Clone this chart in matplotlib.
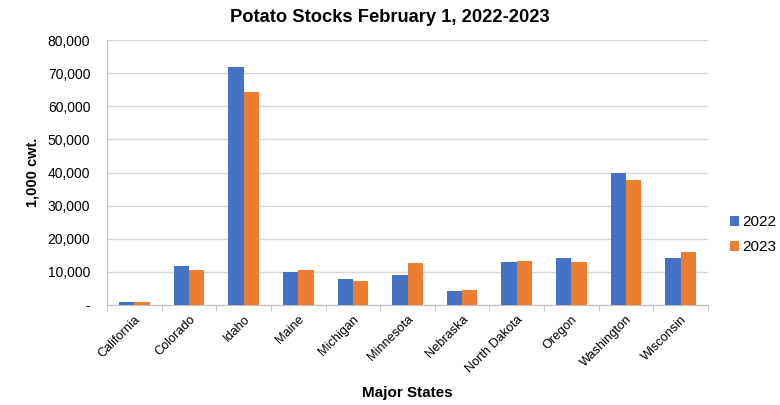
import matplotlib
matplotlib.use("Agg")
import matplotlib.pyplot as plt
import numpy as np
from matplotlib.ticker import FuncFormatter, MultipleLocator

plt.rcParams['font.family'] = ['Liberation Sans', 'DejaVu Sans']

states = ["California", "Colorado", "Idaho", "Maine", "Michigan", "Minnesota",
          "Nebraska", "North Dakota", "Oregon", "Washington", "Wisconsin"]
stocks_2022 = [950, 11900, 71800, 9900, 8000, 9200, 4200, 13100, 14300, 40000, 14100]
stocks_2023 = [950, 10700, 64300, 10600, 7300, 12600, 4400, 13200, 13100, 37800, 16100]
series_labels = ["2022", "2023"]
colors = ["#4472C4", "#ED7D31"]

fig = plt.figure(figsize=(7.8, 4.05), dpi=100)
ax = fig.add_axes([107/780, 1-305/405, (708-107)/780, (305-40)/405])

x = np.arange(len(states))
w = 0.28
ax.bar(x - w/2, stocks_2022, width=w, color=colors[0], label=series_labels[0], zorder=3)
ax.bar(x + w/2, stocks_2023, width=w, color=colors[1], label=series_labels[1], zorder=3)

ax.set_xlim(-0.5, len(states) - 0.5)
ax.set_ylim(0, 80000)
ax.yaxis.set_major_locator(MultipleLocator(10000))
ax.yaxis.set_major_formatter(FuncFormatter(lambda v, p: "-" if v == 0 else f"{int(v):,}"))
ax.grid(axis='y', color='#D9D9D9', linewidth=1, zorder=0)

ax.set_xticks(x)
ax.set_xticklabels(states, rotation=45, ha='right', rotation_mode='anchor', fontsize=9.2)
ax.set_xticks(np.arange(-0.5, len(states)), minor=True)
ax.tick_params(axis='x', which='major', length=0, pad=6)
ax.tick_params(axis='x', which='minor', length=4, color='#BFBFBF')
ax.tick_params(axis='y', length=0, labelsize=10, pad=12)

for s in ['top', 'right']:
    ax.spines[s].set_visible(False)
for s in ['left', 'bottom']:
    ax.spines[s].set_color('#BFBFBF')

fig.text(0.5, 1 - 17/405, "Potato Stocks February 1, 2022-2023", fontsize=13.2,
         fontweight='bold', ha='center', va='center')
ax.set_ylabel("1,000 cwt.", fontsize=10.5, fontweight='bold', labelpad=6)
ax.set_xlabel("Major States", fontsize=11, fontweight='bold', labelpad=8)

ax.legend(loc='center left', bbox_to_anchor=(1.013, 0.265), frameon=False, fontsize=11,
          handlelength=0.6, handleheight=0.6, handletextpad=0.25, labelspacing=0.7)

fig.savefig("out.png", dpi=100)
